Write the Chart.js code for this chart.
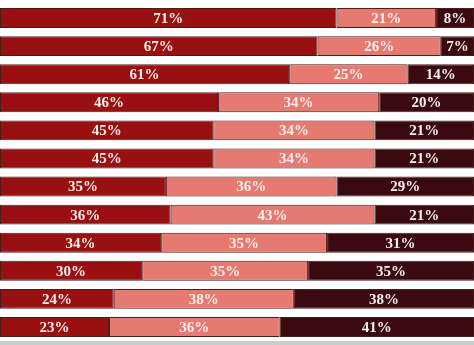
<!DOCTYPE html>
<html>
<head>
<meta charset="UTF-8">
<title>Stacked shares</title>
<style>
    html, body { margin: 0; padding: 0; background: #fff; }
    .wrap { width: 474px; height: 341px; position: relative; }
    .strip { width: 474px; height: 4px; background: #c9cdcd; }
</style>
</head>
<body>
<div class="wrap"><canvas id="chart"></canvas></div>
<div class="strip"></div>
<script src="https://cdn.jsdelivr.net/npm/chart.js"></script>
<script>
const categories = ['1', '2', '3', '4', '5', '6', '7', '8', '9', '10', '11', '12'];
const darkValues   = [71, 67, 61, 46, 45, 45, 35, 36, 34, 30, 24, 23];
const salmonValues = [21, 26, 25, 34, 34, 34, 36, 43, 35, 35, 38, 36];
const maroonValues = [8, 7, 14, 20, 21, 21, 29, 21, 31, 35, 38, 41];

function series(data, color) {
    return {
        data: data,
        backgroundColor: color,
        borderColor: '#4a1c1c',
        borderWidth: 1,
        borderSkipped: false,
        barPercentage: 0.71,
        categoryPercentage: 1
    };
}

// draw the percentage in the middle of each segment
const segmentLabels = {
    id: 'segmentLabels',
    afterDatasetsDraw(chart) {
        const ctx = chart.ctx;
        ctx.save();
        ctx.font = 'bold 15px "Liberation Serif", serif';
        ctx.fillStyle = '#f8f0ec';
        ctx.textAlign = 'center';
        ctx.textBaseline = 'middle';
        chart.data.datasets.forEach((ds, i) => {
            chart.getDatasetMeta(i).data.forEach((bar, j) => {
                const mid = (bar.x + bar.base) / 2;
                ctx.fillText(ds.data[j] + '%', mid, bar.y + 1);
            });
        });
        ctx.restore();
    }
};

new Chart(document.getElementById('chart'), {
    type: 'bar',
    data: {
        labels: categories,
        datasets: [
            series(darkValues, '#9a1010'),
            series(salmonValues, '#e67a71'),
            series(maroonValues, '#3b0a10')
        ]
    },
    options: {
        indexAxis: 'y',
        responsive: true,
        maintainAspectRatio: false,
        animation: false,
        layout: { padding: { top: 4, bottom: 0, left: 0, right: 0 } },
        plugins: { legend: { display: false }, tooltip: { enabled: false } },
        scales: {
            x: { stacked: true, min: 0, max: 100, display: false },
            y: { stacked: true, display: false }
        }
    },
    plugins: [segmentLabels]
});
</script>
</body>
</html>
